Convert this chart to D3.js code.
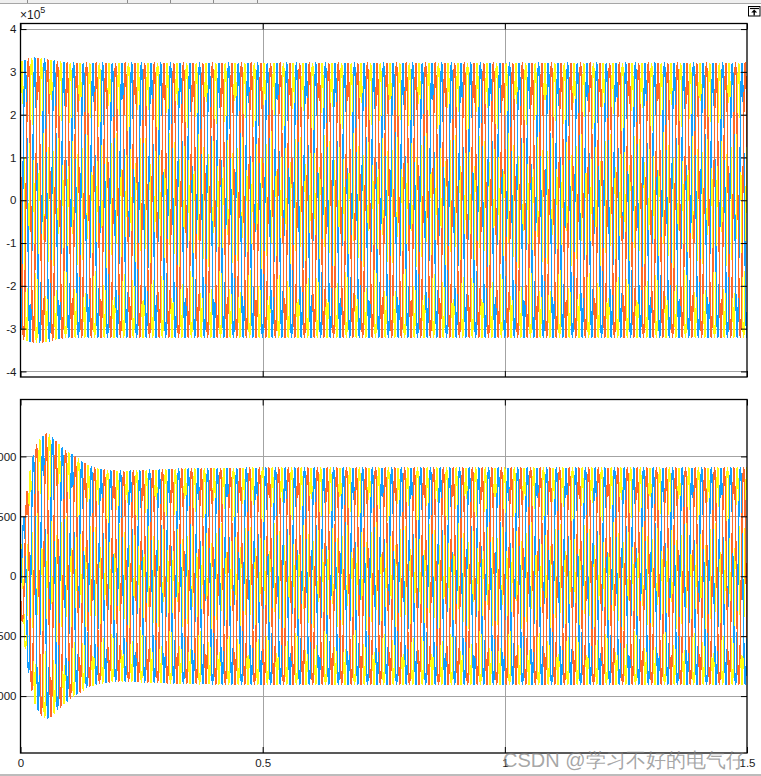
<!DOCTYPE html>
<html>
<head>
<meta charset="utf-8">
<script src="https://cdn.jsdelivr.net/npm/d3@7/dist/d3.min.js"></script>
<style>
  html, body { margin: 0; padding: 0; background: #ffffff; overflow: hidden; }
  svg { display: block; }
  text { font-family: "Liberation Sans", Arial, Helvetica, sans-serif; }
</style>
</head>
<body>
<script>
// ---------------- data ----------------
const timeSpan = [0, 1.5];            // seconds
const freqHz = 50;                    // grid frequency
const sampleStep = 1e-4;              // scope sample time
const phaseNames = ["A", "B", "C"];
const phaseShiftsDeg = [0, -120, 120];

const xTicks = [0, 0.5, 1, 1.5];
const xTickLabels = ["0", "0.5", "1", "1.5"];

// upper scope (voltage, x10^5)
const voltDomain = [-4.13e5, 4.13e5];
const voltTicks = [-4e5, -3e5, -2e5, -1e5, 0, 1e5, 2e5, 3e5, 4e5];
const voltTickLabels = ["-4", "-3", "-2", "-1", "0", "1", "2", "3", "4"];
const voltExponentLabel = "5";
const voltEnvTimes = [0, 0.01, 0.02, 0.03, 0.045, 0.06, 0.08, 0.1, 0.2, 1.5];
const voltEnvAmps  = [3.22e5, 3.27e5, 3.31e5, 3.32e5, 3.32e5, 3.28e5, 3.23e5, 3.2e5, 3.2e5, 3.2e5];
const voltPhaseDeg = 37;

// lower scope (current)
const currDomain = [-1475, 1475];
const currTicks = [-1000, -500, 0, 500, 1000];
const currTickLabels = ["-1000", "-500", "0", "500", "1000"];
const currEnvTimes = [0, 0.007, 0.0145, 0.022, 0.031, 0.041, 0.052, 0.062, 0.072, 0.093, 0.113, 0.134, 0.155, 0.175, 0.206, 0.27, 0.33, 0.47, 1.5];
const currEnvAmps  = [250, 500, 750, 930, 1080, 1150, 1190, 1175, 1130, 1050, 995, 935, 900, 885, 875, 885, 895, 903, 903];
const currPhaseDeg = 95;

const watermark = "CSDN @学习不好的电气仔";

// ---------------- styles ----------------
const lineColors = ["#ffff11", "#129fff", "#ff6929"];
const W = 761, H = 776;
const plotLeft = 20.5, plotRight = 747;
const panels = [
  { top: 23.5, bottom: 377, domain: voltDomain, ticks: voltTicks, labels: voltTickLabels,
    envT: voltEnvTimes, envA: voltEnvAmps, phase: voltPhaseDeg, showX: false },
  { top: 399.5, bottom: 753, domain: currDomain, ticks: currTicks, labels: currTickLabels,
    envT: currEnvTimes, envA: currEnvAmps, phase: currPhaseDeg, showX: true }
];

const svg = d3.select("body").append("svg").attr("width", W).attr("height", H);

// window chrome
svg.append("rect").attr("x", 0).attr("y", 0).attr("width", W).attr("height", 3).attr("fill", "#efefef");
svg.append("line").attr("x1", 0).attr("x2", W).attr("y1", 3.5).attr("y2", 3.5).attr("stroke", "#a6a6a6").attr("stroke-width", 1);
[27, 127, 170, 213, 257].forEach(px => {
  svg.append("line").attr("x1", px + 0.5).attr("x2", px + 0.5).attr("y1", 0).attr("y2", 3).attr("stroke", "#8c8c8c");
});
svg.append("line").attr("x1", 0).attr("x2", W).attr("y1", 775).attr("y2", 775).attr("stroke", "#a6a6a6").attr("stroke-width", 1.5);

// undock icon
const icon = svg.append("g");
icon.append("rect").attr("x", 748.5).attr("y", 6.5).attr("width", 11.5).attr("height", 9.5)
  .attr("fill", "#fff").attr("stroke", "#000").attr("stroke-width", 1);
icon.append("line").attr("x1", 750).attr("x2", 759).attr("y1", 8.5).attr("y2", 8.5).attr("stroke", "#000").attr("stroke-width", 1.2);
icon.append("path").attr("d", "M754.2,9.5 L751.2,12.6 L757.2,12.6 Z").attr("fill", "#000");
icon.append("line").attr("x1", 754.2).attr("x2", 754.2).attr("y1", 12).attr("y2", 15.5).attr("stroke", "#000").attr("stroke-width", 1.4);

const x = d3.scaleLinear().domain(timeSpan).range([plotLeft, plotRight]);
const times = d3.range(timeSpan[0], timeSpan[1] + sampleStep / 2, sampleStep);

panels.forEach((p, pi) => {
  const y = d3.scaleLinear().domain(p.domain).range([p.bottom, p.top]);
  const g = svg.append("g");
  const clipId = "clip" + pi;
  svg.append("clipPath").attr("id", clipId).append("rect")
    .attr("x", plotLeft).attr("y", p.top).attr("width", plotRight - plotLeft).attr("height", p.bottom - p.top);

  // grid
  const grid = g.append("g").attr("stroke", "#a3a3a3").attr("stroke-width", 1);
  p.ticks.forEach(v => {
    grid.append("line").attr("x1", plotLeft).attr("x2", plotRight)
      .attr("y1", Math.round(y(v)) + 0.5).attr("y2", Math.round(y(v)) + 0.5);
  });
  xTicks.slice(1, -1).forEach(v => {
    grid.append("line").attr("x1", Math.round(x(v)) + 0.5).attr("x2", Math.round(x(v)) + 0.5)
      .attr("y1", p.top).attr("y2", p.bottom);
  });

  // waveforms
  const env = d3.scaleLinear().domain(p.envT).range(p.envA).clamp(true);
  const line = d3.line().x(d => x(d[0])).y(d => y(d[1]));
  const wave = g.append("g").attr("clip-path", `url(#${clipId})`);
  phaseNames.forEach((name, k) => {
    const ph = (p.phase + phaseShiftsDeg[k]) * Math.PI / 180;
    const pts = times.map(t => [t, env(t) * Math.sin(2 * Math.PI * freqHz * t + ph)]);
    wave.append("path").datum(pts).attr("d", line)
      .attr("fill", "none").attr("stroke", lineColors[k]).attr("stroke-width", 1.3)
      .attr("shape-rendering", "crispEdges");
  });

  // axes (inward ticks)
  const yAxis = d3.axisLeft(y).tickValues(p.ticks).tickFormat((d, i) => p.labels[i]).tickSizeInner(-6).tickSizeOuter(0).tickPadding(4);
  const ya = g.append("g").attr("transform", `translate(${plotLeft},0)`).call(yAxis);
  const yRight = d3.axisRight(y).tickValues(p.ticks).tickFormat("").tickSizeInner(-6).tickSizeOuter(0);
  const yr = g.append("g").attr("transform", `translate(${plotRight},0)`).call(yRight);
  const xAxis = d3.axisBottom(x).tickValues(xTicks).tickFormat((d, i) => p.showX ? xTickLabels[i] : "").tickSizeInner(-6).tickSizeOuter(0).tickPadding(6);
  const xa = g.append("g").attr("transform", `translate(0,${p.bottom})`).call(xAxis);
  const xTop = d3.axisTop(x).tickValues(xTicks).tickFormat("").tickSizeInner(-6).tickSizeOuter(0);
  const xt = g.append("g").attr("transform", `translate(0,${p.top})`).call(xTop);
  [ya, yr, xa, xt].forEach(a => {
    a.select(".domain").remove();
    a.selectAll(".tick line").attr("stroke", "#000").attr("stroke-width", 1);
    a.selectAll(".tick text").attr("fill", "#1a1a1a").attr("font-size", 11.5);
  });

  // frame
  g.append("rect").attr("x", plotLeft).attr("y", p.top).attr("width", plotRight - plotLeft).attr("height", p.bottom - p.top)
    .attr("fill", "none").attr("stroke", "#000").attr("stroke-width", 1.3);

  if (pi === 0) {
    const ex = svg.append("text").attr("x", 20).attr("y", 19).attr("font-size", 12).attr("fill", "#1a1a1a");
    ex.append("tspan").text("×10");
    ex.append("tspan").attr("font-size", 9).attr("dy", -6).text(voltExponentLabel);
  }
});

// watermark
svg.append("text").attr("x", 503).attr("y", 767)
  .attr("font-family", "'Noto Sans CJK SC', 'Noto Sans', sans-serif")
  .attr("font-size", 20).attr("fill", "rgba(128,128,128,0.7)").text(watermark);
</script>
</body>
</html>
